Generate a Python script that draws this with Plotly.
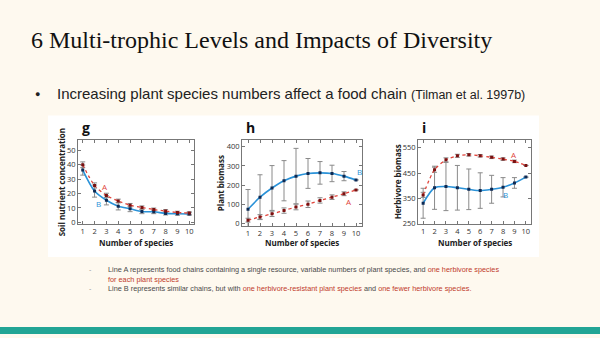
import plotly.graph_objects as go

# ---- data ----
species = [1, 2, 3, 4, 5, 6, 7, 8, 9, 10]

# panel g: soil nutrient concentration
g_a = [40, 25.6, 18.7, 14.8, 11.9, 10.3, 8.9, 7.8, 6.8, 6.4]
g_a_err = [2, 1.8, 1.5, 1.3, 1.2, 1.1, 1.0, 1.0, 0.9, 0.9]
g_b = [36.3, 21.7, 15.3, 11.2, 9.4, 7.5, 7.3, 6.2, 5.9, 5.8]
g_b_err = [3.5, 4.2, 3.2, 2.6, 2.0, 1.5, 1.3, 1.1, 1.0, 0.9]

# panel h: plant biomass
h_a = [17, 34, 50, 67, 86, 100, 120, 137, 155, 175]
h_a_err = [10, 12, 14, 14, 15, 17, 14, 12, 10, 0]
h_b = [74, 137, 185, 223, 247, 261, 264, 261, 247, 227]
h_b_err = [103, 117, 117, 105, 145, 78, 59, 43, 24, 0]

# panel i: herbivore biomass
i_a = [364, 463, 502, 518, 522, 518, 512, 505, 496, 480]
i_a_err = [10, 10, 8, 6, 5, 5, 5, 5, 5, 0]
i_b = [331, 392, 397, 392, 386, 381, 386, 394, 411, 434]
i_b_err = [59, 85, 95, 88, 80, 70, 55, 38, 21, 0]

y_titles = ["Soil nutrient concentration", "Plant biomass", "Herbivore biomass"]
panel_letters = ["g", "h", "i"]
y_ticks = [[0, 10, 20, 30, 40, 50], [0, 100, 200, 300, 400], [250, 350, 450, 550]]

W, H = 600, 338
BG = "#fef9ef"
RED_LINE = "#e0433a"
RED_MARK = "#7a1010"
BLUE_LINE = "#2a92d8"
BLUE_MARK = "#0d2a55"
ERR = "#8a8a8a"
FONT = "Open Sans"


def px_x(v):
    return v / W


def px_y(v):
    return 1 - v / H


# plot frames in pixels: (left, right, top, bottom)
frames = [(78, 194, 142, 227), (242, 362, 142, 229), (418, 531, 142, 227)]
x_ranges = [[0.6, 10.4], [0.5, 10.5], [0.55, 10.45]]
y_ranges = [[-1.4, 57], [-15, 434], [248, 579]]

panels = [
    (g_a, g_a_err, g_b, g_b_err),
    (h_a, h_a_err, h_b, h_b_err),
    (i_a, i_a_err, i_b, i_b_err),
]

fig = go.Figure()

for k, (a, a_err, b, b_err) in enumerate(panels):
    xa = "x" if k == 0 else f"x{k + 1}"
    ya = "y" if k == 0 else f"y{k + 1}"
    # error bars
    for vals, errs in ((b, b_err), (a, a_err)):
        fig.add_trace(go.Scatter(
            x=species, y=vals, mode="markers", marker=dict(size=1, color="rgba(0,0,0,0)"),
            error_y=dict(type="data", array=errs, color=ERR, thickness=1, width=2.5),
            xaxis=xa, yaxis=ya, showlegend=False, hoverinfo="skip"))
    # line B (solid blue)
    fig.add_trace(go.Scatter(
        x=species, y=b, mode="lines+markers",
        line=dict(color=BLUE_LINE, width=1.6, shape="spline", smoothing=0.8),
        marker=dict(color=BLUE_MARK, size=3, symbol="square"),
        xaxis=xa, yaxis=ya, showlegend=False))
    # line A (dotted red)
    fig.add_trace(go.Scatter(
        x=species, y=a, mode="lines+markers",
        line=dict(color=RED_LINE, width=1.3, dash="dot", shape="spline", smoothing=0.8),
        marker=dict(color=RED_MARK, size=3, symbol="square"),
        xaxis=xa, yaxis=ya, showlegend=False))

layout_axes = {}
for k in range(3):
    l, r, t, b = frames[k]
    sx = "xaxis" if k == 0 else f"xaxis{k + 1}"
    sy = "yaxis" if k == 0 else f"yaxis{k + 1}"
    ya = "y" if k == 0 else f"y{k + 1}"
    xa = "x" if k == 0 else f"x{k + 1}"
    common = dict(showgrid=False, zeroline=False, showline=True, linecolor="#777",
                  linewidth=1, mirror="ticks", ticks="inside", ticklen=3, tickcolor="#777",
                  tickfont=dict(family=FONT, size=7.5, color="#333"), fixedrange=True)
    layout_axes[sx] = dict(domain=[px_x(l), px_x(r)], range=x_ranges[k], anchor=ya,
                           tickvals=species, ticktext=[str(s) for s in species], **common)
    layout_axes[sy] = dict(domain=[px_y(b), px_y(t)], range=y_ranges[k], anchor=xa,
                           tickvals=y_ticks[k], **common)

fig.update_layout(
    width=W, height=H, margin=dict(l=0, r=0, t=0, b=0),
    paper_bgcolor=BG, plot_bgcolor="white", showlegend=False,
    **layout_axes,
)

shapes = [
    # white figure panel
    dict(type="rect", xref="paper", yref="paper", x0=px_x(48), x1=px_x(539),
         y0=px_y(260), y1=px_y(117), fillcolor="white", line=dict(width=0), layer="below"),
    # teal footer band
    dict(type="rect", xref="paper", yref="paper", x0=0, x1=1, y0=0, y1=px_y(331),
         fillcolor="#22a595", line=dict(width=0)),
]
fig.update_layout(shapes=shapes)

ann = []
# slide title
ann.append(dict(text="6 Multi-trophic Levels and Impacts of Diversity", x=px_x(29), y=px_y(40),
                xref="paper", yref="paper", xanchor="left", yanchor="middle", showarrow=False,
                font=dict(family="Liberation Serif", size=24, color="#111")))
# bullet
ann.append(dict(text="●", x=px_x(37), y=px_y(95), xref="paper", yref="paper",
                xanchor="center", yanchor="middle", showarrow=False,
                font=dict(family="Liberation Sans", size=9, color="#222")))
ann.append(dict(text="Increasing plant species numbers affect a food chain "
                     "<span style='font-size:12.5px'>(Tilman et al. 1997b)</span>",
                x=px_x(55), y=px_y(95), xref="paper", yref="paper", xanchor="left",
                yanchor="middle", showarrow=False,
                font=dict(family="Liberation Sans", size=15, color="#222")))

for k in range(3):
    l, r, t, b = frames[k]
    # panel letter
    ann.append(dict(text="<b>" + panel_letters[k] + "</b>", x=px_x(l + 2), y=px_y(t - 1),
                    xref="paper", yref="paper", xanchor="left", yanchor="bottom", showarrow=False,
                    font=dict(family=FONT, size=14, color="#111")))
    # x-axis title
    ann.append(dict(text="<b>Number of species</b>", x=px_x((l + r) / 2), y=px_y(245),
                    xref="paper", yref="paper", xanchor="center", yanchor="middle",
                    showarrow=False, font=dict(family=FONT, size=8, color="#222")))

y_title_x = [61, 220, 397]
for k in range(3):
    t, b = frames[k][2], frames[k][3]
    ann.append(dict(text="<b>" + y_titles[k] + "</b>", x=px_x(y_title_x[k]),
                    y=px_y((t + b) / 2), xref="paper", yref="paper", xanchor="center",
                    yanchor="middle", textangle=-90, showarrow=False,
                    font=dict(family=FONT, size=8, color="#222")))

# curve labels A / B
curve_labels = [
    ("A", 2.9, 24.6, RED_LINE, 0), ("B", 2.3, 13.2, BLUE_LINE, 0),
    ("B", 10.3, 271, BLUE_LINE, 1), ("A", 9.4, 115, RED_LINE, 1),
    ("A", 8.95, 525, RED_LINE, 2), ("B", 8.25, 364, BLUE_LINE, 2),
]
for txt, xv, yv, col, k in curve_labels:
    ann.append(dict(text=txt, x=xv, y=yv, xref="x" if k == 0 else f"x{k + 1}",
                    yref="y" if k == 0 else f"y{k + 1}", showarrow=False,
                    font=dict(family=FONT, size=8, color=col)))

# footnotes, one annotation per printed line
RED_TXT = "#c0392b"
GREY_TXT = "#4a4a4a"


def red(s):
    return "<span style='color:" + RED_TXT + "'>" + s + "</span>"


footnote_lines = [
    (273, "Line A represents food chains containing a single resource, variable numbers of plant "
          "species, and " + red("one herbivore species"), True),
    (282.5, red("for each plant species"), False),
    (292, "Line B represents similar chains, but with " + red("one herbivore-resistant plant species")
          + " and " + red("one fewer herbivore species."), True),
]
for yy, txt, dash in footnote_lines:
    if dash:
        ann.append(dict(text="-", x=px_x(90), y=px_y(yy), xref="paper", yref="paper",
                        xanchor="center", yanchor="middle", showarrow=False, borderpad=0,
                        font=dict(family="Liberation Sans", size=7, color="#999")))
    ann.append(dict(text=txt, x=px_x(107), y=px_y(yy), xref="paper", yref="paper",
                    xanchor="left", yanchor="middle", align="left", showarrow=False,
                    borderpad=0, font=dict(family="Liberation Sans", size=7.3, color=GREY_TXT)))

fig.update_layout(annotations=ann)
fig.write_html("out.html")
